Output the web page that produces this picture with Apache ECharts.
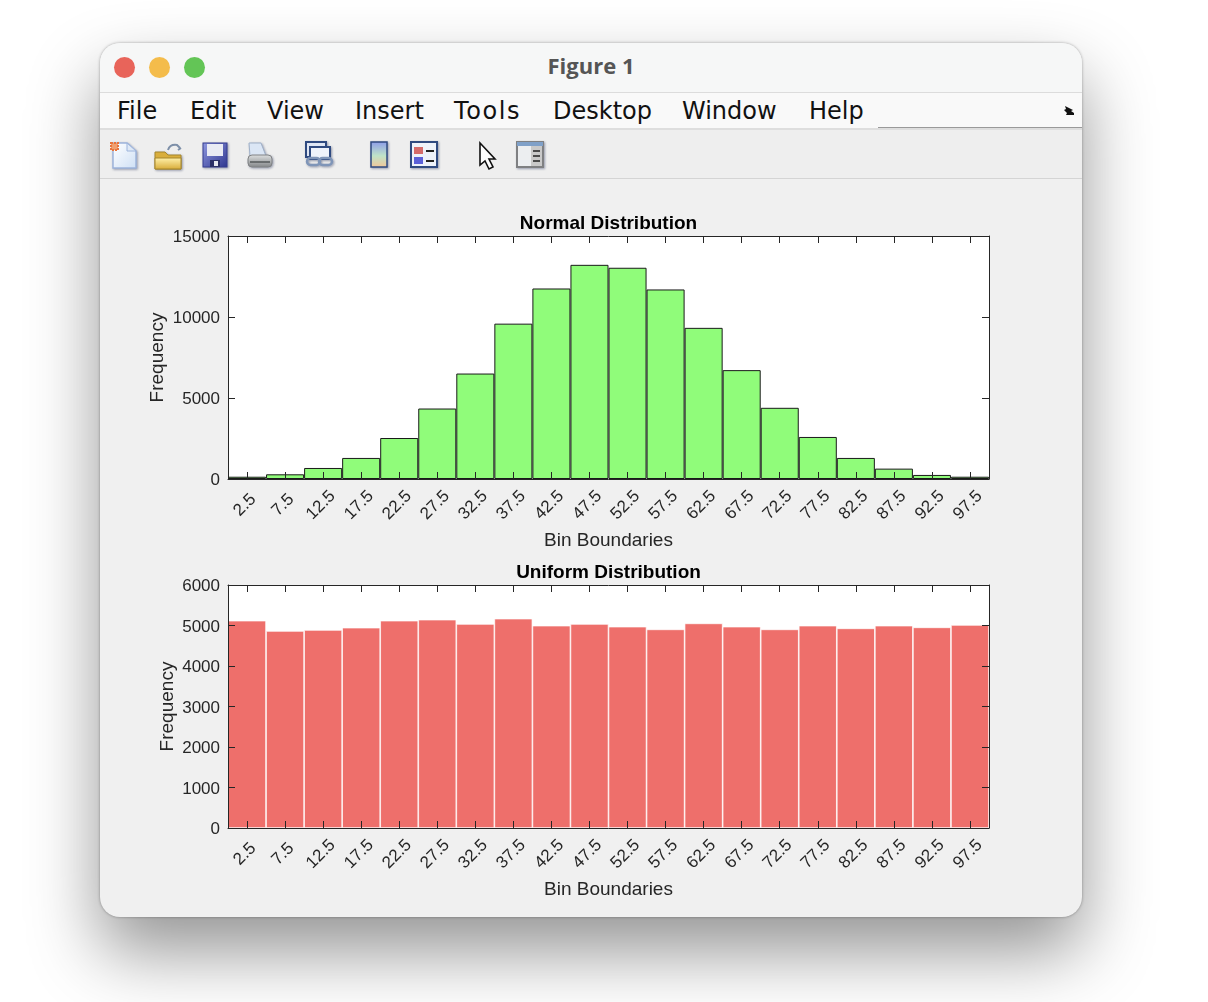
<!DOCTYPE html>
<html>
<head>
<meta charset="utf-8">
<title>Figure 1</title>
<script src="https://cdn.jsdelivr.net/npm/echarts@6/dist/echarts.min.js"></script>
<style>
html, body { margin: 0; padding: 0; width: 1208px; height: 1002px; background: #fff; overflow: hidden; }
.win { position: absolute; left: 100px; top: 43px; width: 982px; height: 874px; border-radius: 20px; background: #f0f0f0;
	box-shadow: 0 35px 70px rgba(0,0,0,.42), 0 0 3px rgba(0,0,0,.35); overflow: hidden; }
.titlebar { position: absolute; left: 0; top: 0; width: 100%; height: 49px; background: #f6f7f7; border-bottom: 1px solid #dcdcdc; }
.menubar { position: absolute; left: 0; top: 50px; width: 100%; height: 35px; background: #f9f9f9; border-bottom: 2px solid #dedede; }
.menuline { position: absolute; left: 778px; top: 84px; width: 204px; height: 1px; background: #9a9a9a; }
.toolbar { position: absolute; left: 0; top: 87px; width: 100%; height: 48px; background: #eeeeee; border-bottom: 1px solid #d4d4d4; }
.dot { position: absolute; top: 14px; width: 21px; height: 21px; border-radius: 50%; }
.wtitle { position: absolute; left: 0; width: 100%; top: 7px; text-align: center; font: bold 22px "Open Sans"; color: #555; }
.menu { position: absolute; top: 52px; font: 24px "DejaVu Sans"; color: #111; line-height: 32px; }
#icons { position: absolute; left: 0; top: 0; }
#icons g { filter: drop-shadow(1px 1px 1px rgba(40,50,90,.45)); }
#chart { position: absolute; left: 0; top: 0; width: 1208px; height: 1002px; }
</style>
</head>
<body>
<div class="win">
	<div class="titlebar"></div>
	<div class="menubar"></div>
	<div class="menuline"></div>
	<div class="toolbar"></div>
	<div class="dot" style="left:14px;background:#e8645a"></div>
	<div class="dot" style="left:49px;background:#f4bc4b"></div>
	<div class="dot" style="left:84px;background:#63c556"></div>
	<div class="wtitle">Figure 1</div>
	<span class="menu" style="left:17px">File</span>
	<span class="menu" style="left:90px">Edit</span>
	<span class="menu" style="left:167px">View</span>
	<span class="menu" style="left:255px">Insert</span>
	<span class="menu" style="left:354px;letter-spacing:1.6px">Tools</span>
	<span class="menu" style="left:453px">Desktop</span>
	<span class="menu" style="left:582px">Window</span>
	<span class="menu" style="left:709px">Help</span>
</div>
<svg id="icons" width="1208" height="1002">
	<defs>
		<linearGradient id="page" x1="0" y1="0" x2="1" y2="1"><stop offset="0" stop-color="#ffffff"/><stop offset="1" stop-color="#cfe0f5"/></linearGradient>
		<linearGradient id="gold" x1="0" y1="0" x2="0" y2="1"><stop offset="0" stop-color="#fff0a8"/><stop offset="1" stop-color="#d9ae3c"/></linearGradient>
		<linearGradient id="disk" x1="0" y1="0" x2="1" y2="1"><stop offset="0" stop-color="#8f98e0"/><stop offset="1" stop-color="#2f3790"/></linearGradient>
		<linearGradient id="grey" x1="0" y1="0" x2="0" y2="1"><stop offset="0" stop-color="#dcdedf"/><stop offset="1" stop-color="#85888a"/></linearGradient>
		<linearGradient id="cb" x1="0" y1="0" x2="0" y2="1">
			<stop offset="0" stop-color="#8f9fe8"/><stop offset=".55" stop-color="#bfe3c8"/><stop offset="1" stop-color="#f0c79a"/>
		</linearGradient>
	</defs>
	<g>
		<path d="M113 143h14l9 8v17h-23z" fill="url(#page)" stroke="#9db4dc" stroke-width="1.5"/>
		<path d="M127 143v8h9z" fill="#dfe9f6" stroke="#9db4dc"/>
	</g>
	<rect x="111" y="143" width="7" height="7" fill="#f0a070" stroke="#e8743b" stroke-dasharray="2 1" stroke-width="2"/>
	<g>
		<path d="M155 152h10l3 3h13v14h-26z" fill="#d9ae3c" stroke="#a5862c" stroke-width="1"/>
		<path d="M155 169v-11h26v11z" fill="url(#gold)" stroke="#a5862c" stroke-width="1"/>
	</g>
	<path d="M168 150q2-6 9-5l3 3M178 150l3-2" fill="none" stroke="#7d8fa8" stroke-width="2"/>
	<g>
		<rect x="203" y="143" width="24" height="24" fill="url(#disk)" stroke="#343c90"/>
		<rect x="207" y="144" width="16" height="12" fill="#e9ebf4"/>
		<rect x="210" y="160" width="10" height="7" fill="#2a2f66"/>
		<rect x="214" y="161" width="4" height="5" fill="#e6e8f0"/>
	</g>
	<g>
		<path d="M250 156l-1-13h12l5 13z" fill="#dbe6f5" stroke="#9fb0c8"/>
		<rect x="248" y="155" width="24" height="12" rx="4" fill="url(#grey)" stroke="#808284"/>
		<path d="M250 162h20" stroke="#55585a" stroke-width="1.5"/>
	</g>
	<g>
		<rect x="306" y="142" width="20" height="15" fill="#dfe6f4" stroke="#2f4a80" stroke-width="2"/>
		<rect x="310" y="147" width="20" height="12" fill="#eef2fa" stroke="#2f4a80" stroke-width="2"/>
		<rect x="307" y="158" width="13" height="7" rx="3.5" fill="none" stroke="#7f95b8" stroke-width="2.5"/>
		<rect x="319" y="158" width="13" height="7" rx="3.5" fill="none" stroke="#7f95b8" stroke-width="2.5"/>
	</g>
	<g>
		<rect x="371" y="142" width="16" height="25" fill="url(#cb)" stroke="#2f4a80" stroke-width="1.5"/>
	</g>
	<g>
		<rect x="411" y="142" width="26" height="25" fill="#eef2fa" stroke="#2f4a80" stroke-width="2"/>
		<rect x="414" y="147" width="9" height="7" fill="#d56b6b"/>
		<rect x="414" y="157" width="9" height="7" fill="#5b60d8"/>
		<rect x="426" y="150" width="8" height="2" fill="#222"/>
		<rect x="426" y="160" width="8" height="2" fill="#222"/>
	</g>
	<path d="M480 143v22l5-4 4 8 4-2-4-8h6z" fill="#fff" stroke="#111" stroke-width="1.6"/>
	<g>
		<rect x="517" y="142" width="26" height="25" fill="#eceef0" stroke="#7f8082" stroke-width="2"/>
		<rect x="517" y="142" width="26" height="4" fill="#7fa0c8"/>
		<rect x="531" y="146" width="11" height="20" fill="#c9c9c9"/>
		<path d="M533 151h7M533 156h7M533 161h7" stroke="#222" stroke-width="1.5"/>
	</g>
	<path d="M1065 106l8 4-2 1 3 2v2h-8l1-2-3-3 2-1z" fill="#111"/>
</svg>
<div id="chart"></div>
<script>
var bins = ["2.5","7.5","12.5","17.5","22.5","27.5","32.5","37.5","42.5","47.5","52.5","57.5","62.5","67.5","72.5","77.5","82.5","87.5","92.5","97.5"];
var normalCounts = [140,290,680,1300,2530,4350,6510,9590,11760,13220,13040,11700,9330,6720,4395,2595,1300,640,250,140];
var uniformCounts = [5120,4865,4890,4947,5120,5145,5038,5170,4997,5038,4972,4905,5053,4972,4905,4997,4930,4997,4955,5014];
var normalTicks = { max: 15000, step: 5000 };
var uniformTicks = { max: 6000, step: 1000 };

var chart = echarts.init(document.getElementById("chart"), null, { renderer: "canvas" });
var textColor = "#262626";
var fontName = "Liberation Sans";

function xAxisOf(gridIndex, isBottom) {
	return {
		type: "category",
		gridIndex: gridIndex,
		position: isBottom ? "bottom" : "top",
		data: bins,
		z: 10,
		name: isBottom ? "Bin Boundaries" : "",
		nameLocation: "middle",
		nameGap: 52,
		nameTextStyle: { color: textColor, fontFamily: fontName, fontSize: 19 },
		axisLine: { show: true, onZero: false, lineStyle: { color: textColor, width: 1 } },
		axisTick: { show: true, inside: true, length: 7, alignWithLabel: true, lineStyle: { color: textColor, width: 1 } },
		axisLabel: isBottom ? {
			show: true, interval: 0, rotate: 45, margin: 24, color: textColor,
			fontFamily: fontName, fontSize: 17, align: "center", verticalAlign: "middle", padding: [0, 6, 0, 0]
		} : { show: false },
		splitLine: { show: false }
	};
}

function yAxisOf(gridIndex, isLeft, ticks, nameGap) {
	return {
		type: "value",
		gridIndex: gridIndex,
		position: isLeft ? "left" : "right",
		min: 0,
		max: ticks.max,
		interval: ticks.step,
		z: 10,
		name: isLeft ? "Frequency" : "",
		nameLocation: "middle",
		nameGap: nameGap,
		nameMoveOverlap: false,
		nameTextStyle: { color: textColor, fontFamily: fontName, fontSize: 19 },
		axisLine: { show: true, lineStyle: { color: textColor, width: 1 } },
		axisTick: { show: true, inside: true, length: 7, lineStyle: { color: textColor, width: 1 } },
		axisLabel: isLeft ? {
			show: true, margin: 8, color: textColor, fontFamily: fontName, fontSize: 17,
			verticalAlign: "top", lineHeight: 3,
			formatter: function (val) { return String(val); }
		} : { show: false },
		splitLine: { show: false }
	};
}

function titleOf(text, top) {
	return {
		text: text, left: 608.5, top: top, textAlign: "center",
		textStyle: { color: "#000", fontFamily: fontName, fontWeight: "bold", fontSize: 19 },
		padding: 0
	};
}

var option = {
	animation: false,
	backgroundColor: "transparent",
	title: [titleOf("Normal Distribution", 214), titleOf("Uniform Distribution", 563)],
	grid: [
		{ left: 228, top: 236, width: 761, height: 243, backgroundColor: "#fff", borderWidth: 0, show: true },
		{ left: 228, top: 585, width: 761, height: 243, backgroundColor: "#fff", borderWidth: 0, show: true }
	],
	xAxis: [xAxisOf(0, true), xAxisOf(0, false), xAxisOf(1, true), xAxisOf(1, false)],
	yAxis: [
		yAxisOf(0, true, normalTicks, 61),
		yAxisOf(0, false, normalTicks, 0),
		yAxisOf(1, true, uniformTicks, 51),
		yAxisOf(1, false, uniformTicks, 0)
	],
	series: [{
		type: "bar",
		xAxisIndex: 0,
		yAxisIndex: 0,
		z: 1,
		data: normalCounts,
		barWidth: "100%",
		itemStyle: { color: "#90fc7a", borderColor: "#1a1a1a", borderWidth: 1 }
	}, {
		type: "bar",
		xAxisIndex: 2,
		yAxisIndex: 2,
		z: 1,
		data: uniformCounts,
		barWidth: "100%",
		itemStyle: { color: "#ee6f6b", borderColor: "#ffffff", borderWidth: 0.7 }
	}]
};
chart.setOption(option);
</script>
</body>
</html>
